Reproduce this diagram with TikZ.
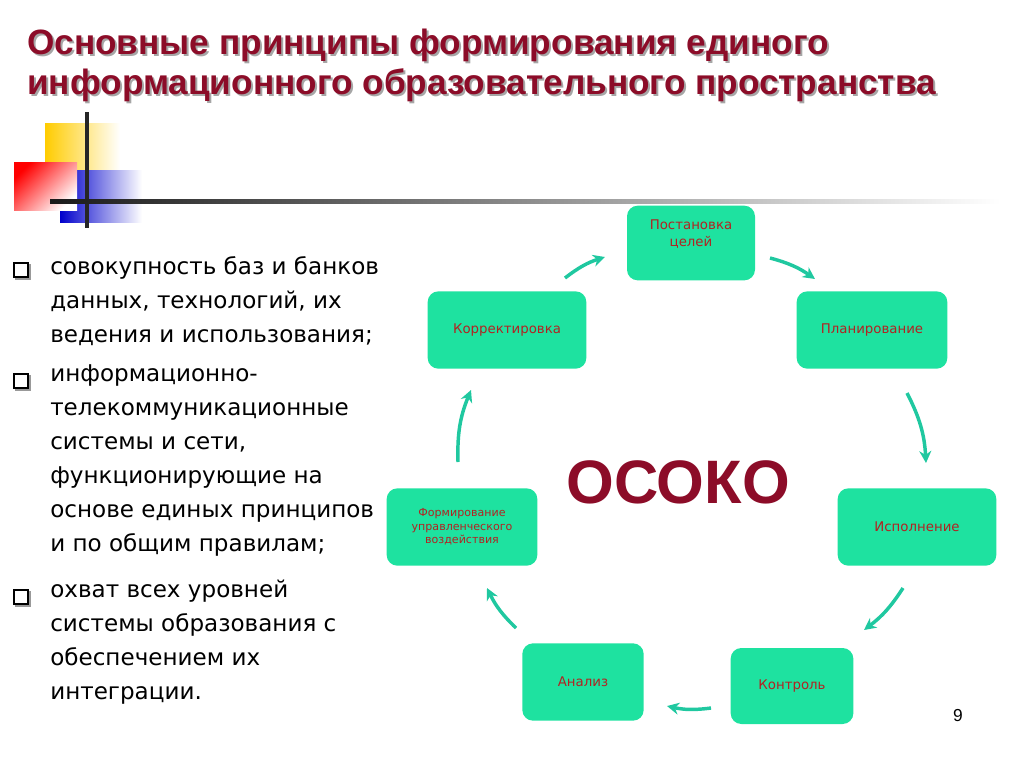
\documentclass[tikz,border=0pt]{standalone}
\usepackage{fontspec}
\setmainfont{Liberation Sans}
\newfontfamily\bodyfont{DejaVu Sans}
\usetikzlibrary{arrows.meta, positioning}
\definecolor{boxgreen}{RGB}{30,226,160}
\definecolor{arrowgreen}{RGB}{32,200,160}
\definecolor{textred}{RGB}{178,34,34}
\definecolor{titlered}{RGB}{140,12,40}
\definecolor{sunyellow}{RGB}{255,204,0}
\tikzstyle{stage} = [rectangle, rounded corners=8pt, fill=boxgreen, text=textred, font=\bodyfont\fontsize{10}{13}\selectfont, align=center, inner sep=2pt]
\tikzstyle{cycle} = [-{Stealth[length=9pt, width=9pt]}, line width=2.6pt, arrowgreen]
\tikzstyle{item} = [anchor=north west, align=left, font=\bodyfont\fontsize{17.3}{25.5}\selectfont, inner sep=0pt]
\tikzstyle{tick} = [draw=black, line width=1.4pt, fill=white, minimum size=11pt, inner sep=0pt]
\tikzstyle{heading} = [anchor=west, font=\bfseries\fontsize{26.4}{30}\selectfont, inner sep=0pt]

\begin{document}
\begin{tikzpicture}[x=0.75pt, y=-0.75pt]
    \useasboundingbox (0,0) rectangle (1024,768);

    % Title.
    \foreach\l/\y in {{Основные принципы формирования единого}/45, {информационного образовательного пространства}/85} {
        \node [heading, text=black!35] at (29,\y+2) {\l};
        \node (title\y) [heading, text=titlered] at (27,\y) {\l};
    }

    % Decoration.
    \shade [left color=sunyellow, right color=white] (45,123) rectangle (120,170);
    \shade [left color=blue!80!black, right color=white] (60,170) rectangle (142,222);
    \shade [top color=red, bottom color=white, shading angle=45] (14,162) rectangle (77,210);
    \draw [line width=3pt, black!85] (87,112) -- (87,228);
    \shade [left color=black!90, right color=white] (50,199) rectangle (1000,203);

    % Bullets.
    \node (text1) [item] at (50,256) {совокупность баз и банков\\данных, технологий, их\\ведения и использования;};
    \node (text2) [item] at (50,364) {информационно-\\телекоммуникационные\\системы и сети,\\функционирующие на\\основе единых принципов\\и по общим правилам;};
    \node (text3) [item] at (50,580) {охват всех уровней\\системы образования с\\обеспечением их\\интеграции.};
    \foreach\i/\y in {1/270, 2/381, 3/597} {
        \node [tick, draw=black!40, fill=black!40] at (23,\y+2) {};
        \node (tick\i) [tick] at (21,\y) {};
    }

    % Stages.
    \node (goals) [stage, minimum width=96pt, minimum height=56pt] at (691,243) {Постановка\\целей\\[2pt]};
    \node (plan) [stage, minimum width=113pt, minimum height=58pt] at (872,330) {Планирование};
    \node (exec) [stage, minimum width=119pt, minimum height=58pt] at (917,527) {Исполнение};
    \node (control) [stage, minimum width=92pt, minimum height=57pt] at (792,686) {Контроль};
    \node (analysis) [stage, minimum width=91pt, minimum height=58pt] at (583,682) {Анализ};
    \node (impact) [stage, minimum width=113pt, minimum height=58pt, font=\bodyfont\fontsize{8.3}{10}\selectfont] at (462,527) {Формирование\\управленческого\\воздействия};
    \node (correct) [stage, minimum width=119pt, minimum height=58pt] at (507,330) {Корректировка};

    \node (osoko) [font=\bfseries\fontsize{46}{50}\selectfont, text=titlered] at (678,482) {ОСОКО};
    \node (page) [font=\fontsize{13}{15}\selectfont] at (958,716) {9};

    % Arrows.
    \coordinate (a1) at (565,278); \coordinate (b1) at (605,257);
    \coordinate (a2) at (770,258); \coordinate (b2) at (815,279);
    \coordinate (a3) at (907,393); \coordinate (b3) at (926,463);
    \coordinate (a4) at (903,588); \coordinate (b4) at (864,630);
    \coordinate (a5) at (711,708); \coordinate (b5) at (667,706);
    \coordinate (a6) at (516,628); \coordinate (b6) at (487,588);
    \coordinate (a7) at (458,462); \coordinate (b7) at (471,390);
    \draw [cycle] (a1) to [bend left=10] (b1);
    \draw [cycle] (a2) to [bend left=10] (b2);
    \draw [cycle] (a3) to [bend left=12] (b3);
    \draw [cycle] (a4) to [bend left=10] (b4);
    \draw [cycle] (a5) to [bend left=10] (b5);
    \draw [cycle] (a6) to [bend left=10] (b6);
    \draw [cycle] (a7) to [bend left=12] (b7);
\end{tikzpicture}
\end{document}
